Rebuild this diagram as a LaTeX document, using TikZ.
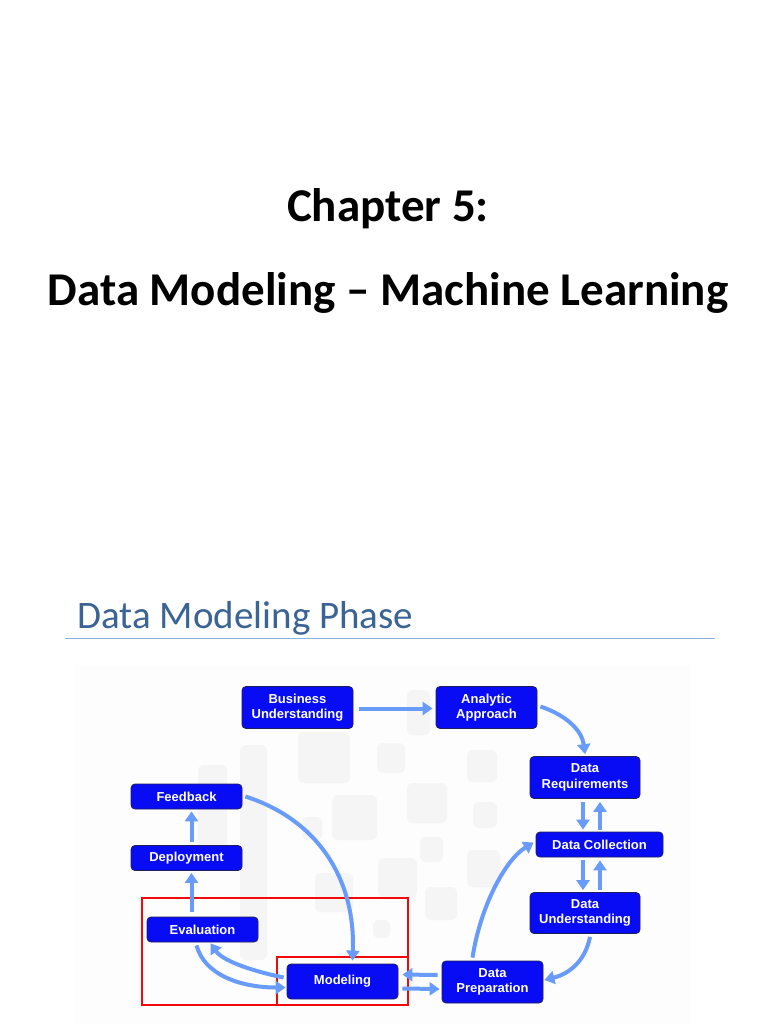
\documentclass[tikz,border=0pt]{standalone}
\usepackage{fontspec}
\setmainfont{Carlito}
\newfontfamily\nodefont{Liberation Sans}
\usetikzlibrary{arrows.meta,calc}
\definecolor{boxblue}{RGB}{8,12,245}
\definecolor{boxedge}{RGB}{30,30,90}
\definecolor{arrowblue}{RGB}{105,155,250}
\definecolor{titleblue}{RGB}{58,100,150}
\definecolor{rulecol}{RGB}{140,175,220}
\definecolor{bgshape}{RGB}{245,245,245}
\definecolor{diagbg}{RGB}{253,253,253}
\definecolor{framered}{RGB}{240,10,10}
\begin{document}
\begin{tikzpicture}[x=1pt,y=-1pt,
  box/.style={draw=boxedge, line width=0.8pt, fill=boxblue, rounded corners=4pt,
    text=white, font=\nodefont\bfseries\fontsize{13}{15.5}\selectfont, align=center, inner sep=0pt},
  arr/.style={draw=arrowblue, line width=4pt, -{Triangle[length=10pt,width=13pt]}},
  bgsq/.style={fill=bgshape, rounded corners=6pt},
  redframe/.style={draw=framered, line width=1.2pt}
]
\useasboundingbox (0,0) rectangle (768,1024);
\fill[white] (0,0) rectangle (768,1024);

% titles
\node (t1) at (388,209) {\fontsize{47}{54}\selectfont\bfseries Chapter 5:};
\node (t2) at (388,293) {\fontsize{47}{54}\selectfont\bfseries Data Modeling -- Machine Learning};
\node[anchor=west, text=titleblue] (t3) at (74,618) {\fontsize{39}{44}\selectfont Data Modeling Phase};
\draw[rulecol, line width=1pt] (65,638) -- (715,638);

% diagram background
\fill[diagbg] (75,665) rectangle (690,1024);
\fill[bgsq] (298,732) rectangle (350,783);
\fill[bgsq] (377,743) rectangle (405,773);
\fill[bgsq] (407,690) rectangle (430,735);
\fill[bgsq] (467,750) rectangle (497,782);
\fill[bgsq] (332,795) rectangle (377,840);
\fill[bgsq] (407,783) rectangle (447,823);
\fill[bgsq] (473,802) rectangle (497,828);
\fill[bgsq] (420,837) rectangle (443,862);
\fill[bgsq] (378,858) rectangle (417,897);
\fill[bgsq] (467,850) rectangle (500,887);
\fill[bgsq] (315,873) rectangle (353,912);
\fill[bgsq] (425,887) rectangle (457,920);
\fill[bgsq] (373,920) rectangle (390,938);
\fill[bgsq] (302,817) rectangle (322,840);
\fill[bgsq] (240,745) rectangle (267,960);
\fill[bgsq] (198,765) rectangle (227,870);

% nodes
\node[box, minimum width=111pt, minimum height=42pt] (bu) at (297.5,707.5) {Business\\Understanding};
\node[box, minimum width=101pt, minimum height=42pt] (aa) at (486.5,707.5) {Analytic\\Approach};
\node[box, minimum width=110pt, minimum height=42pt] (dr) at (585,777.5) {Data\\Requirements};
\node[box, minimum width=127pt, minimum height=25pt] (dc) at (599.5,844.5) {Data Collection};
\node[box, minimum width=110pt, minimum height=41pt] (du) at (585,913) {Data\\Understanding};
\node[box, minimum width=101pt, minimum height=42pt] (dp) at (492.5,982) {Data\\Preparation};
\node[box, minimum width=111pt, minimum height=35pt] (mo) at (342.5,981.5) {Modeling};
\node[box, minimum width=111pt, minimum height=25pt] (ev) at (202.5,929.5) {Evaluation};
\node[box, minimum width=111pt, minimum height=25pt] (de) at (186.5,858) {Deployment};
\node[box, minimum width=111pt, minimum height=25pt] (fb) at (186.5,796.5) {Feedback};

% red frames
\draw[redframe] (142,898) rectangle (408,1005);
\draw[redframe] (277,957) rectangle (408,1005);

% connectors
\draw[arr] ($(bu.east)+(6,1)$) -- ($(aa.west)+(-3,1)$);
\draw[arr] ($(aa.east)+(3,-1)$) .. controls ($(aa.east)+(30,8)$) and ($(dr.north)+(-3,-25)$) .. ($(dr.north)+(0,-2)$);
\draw[arr] ($(dr.south)+(-2,3)$) -- ($(dc.north)+(-16.5,-2)$);
\draw[arr] ($(dc.north)+(0.5,-2)$) -- ($(dr.south)+(15,3)$);
\draw[arr] ($(dc.south)+(-16.5,3)$) -- ($(du.north)+(-2,-2)$);
\draw[arr] ($(du.north)+(15,-2)$) -- ($(dc.south)+(0.5,3)$);
\draw[arr] ($(du.south)+(5,3)$) .. controls ($(du.south)+(0,28)$) and ($(dp.east)+(25,-8)$) .. ($(dp.east)+(1,-2)$);
\draw[arr] ($(dp.north)+(-20,-3)$) .. controls ($(dp.north)+(-12,-55)$) and ($(dc.west)+(-30,15)$) .. ($(dc.west)+(-2,-2)$);
\draw[arr] ($(dp.west)+(-4,-7)$) -- ($(mo.east)+(4,-7)$);
\draw[arr] ($(mo.east)+(4,7)$) -- ($(dp.west)+(-2,7)$);
\draw[arr] ($(fb.east)+(3,0)$) .. controls ($(fb.east)+(75,23)$) and ($(mo.north)+(13,-85)$) .. ($(mo.north)+(10,-3)$);
\draw[arr] ($(mo.west)+(-3,-4)$) .. controls ($(mo.west)+(-37,-11)$) and ($(ev.south)+(20,18)$) .. ($(ev.south)+(8,1)$);
\draw[arr] ($(ev.south)+(-6,3)$) .. controls ($(ev.south)+(2,33)$) and ($(mo.west)+(-45,6)$) .. ($(mo.west)+(-1,6)$);
\draw[arr] ($(de.north)+(5,-3)$) -- ($(fb.south)+(5,2)$);
\draw[arr] ($(ev.north)+(-11,-5)$) -- ($(de.south)+(5,2)$);
\end{tikzpicture}
\end{document}
